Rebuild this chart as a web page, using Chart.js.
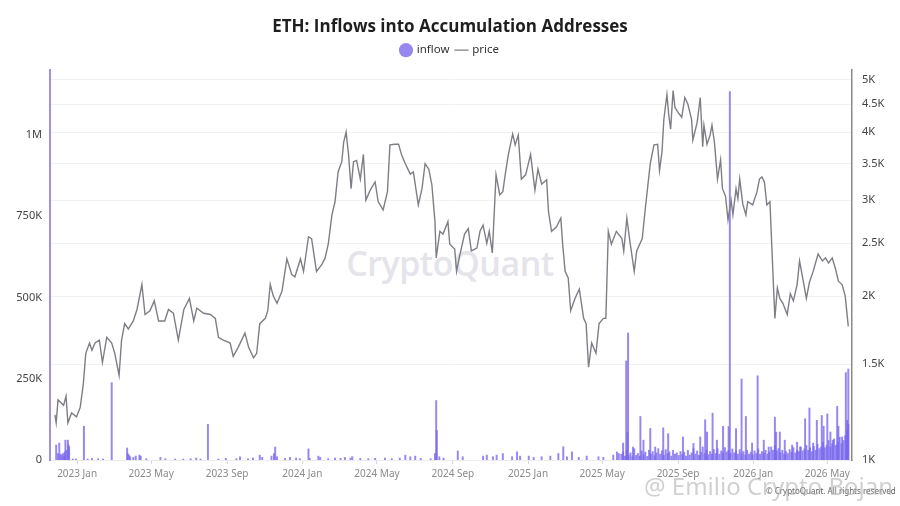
<!DOCTYPE html>
<html><head><meta charset="utf-8">
<script src="https://cdn.jsdelivr.net/npm/chart.js@4.4.1/dist/chart.umd.min.js"></script>
<style>
html,body{margin:0;padding:0;background:#fff;}
#wrap{position:relative;width:900px;height:506px;overflow:hidden;background:#fff;}
#wm{position:absolute;left:0;top:240px;width:900px;text-align:center;font:600 34px 'Open Sans',sans-serif;color:#e4e4ea;z-index:0;letter-spacing:-0.5px;}
#c{position:absolute;left:0;top:0;z-index:1;}
#copy{position:absolute;left:766px;top:485px;font:8px 'Noto Sans',sans-serif;color:#666;z-index:2;white-space:nowrap;}
#handle{position:absolute;left:644px;top:469px;font:24px 'Noto Sans',sans-serif;color:rgba(170,170,170,0.55);z-index:3;white-space:nowrap;}
</style></head>
<body>
<div id="wrap">
<div id="wm">CryptoQuant</div>
<canvas id="c" width="900" height="506"></canvas>
<div id="copy">© CryptoQuant. All rights reserved</div>
<div id="handle">@ Emilio Crypto Bojan</div>
</div>
<script>
// ---- data ----
const chartTitle = 'ETH: Inflows into Accumulation Addresses';
const xTickDates = ['2023-01-01','2023-05-01','2023-09-01','2024-01-01','2024-05-01','2024-09-01','2025-01-01','2025-05-01','2025-09-01','2026-01-01','2026-05-01'];
const leftTicks = [0,250000,500000,750000,1000000];
const rightTicks = [1000,1500,2000,2500,3000,3500,4000,4500,5000];

const priceDates = [
'2022-11-26','2022-11-28','2022-12-01','2022-12-10','2022-12-14','2022-12-17','2022-12-23','2022-12-31',
'2023-01-06','2023-01-11','2023-01-15','2023-01-21','2023-01-25','2023-01-30',
'2023-02-06','2023-02-11','2023-02-18','2023-02-26',
'2023-03-03','2023-03-10','2023-03-14','2023-03-19','2023-03-25',
'2023-04-02','2023-04-08','2023-04-16','2023-04-21','2023-04-29',
'2023-05-06','2023-05-13','2023-05-23','2023-05-29',
'2023-06-06','2023-06-14','2023-06-23',
'2023-07-02','2023-07-09','2023-07-14','2023-07-25',
'2023-08-05','2023-08-13','2023-08-18','2023-08-26',
'2023-09-06','2023-09-11','2023-09-19','2023-09-30',
'2023-10-06','2023-10-14','2023-10-19','2023-10-24',
'2023-11-02','2023-11-06','2023-11-10','2023-11-15','2023-11-21','2023-11-29',
'2023-12-07','2023-12-15','2023-12-20','2023-12-29',
'2024-01-03','2024-01-11','2024-01-16','2024-01-24',
'2024-02-02','2024-02-07','2024-02-12','2024-02-18','2024-02-23','2024-02-28',
'2024-03-05','2024-03-08','2024-03-12','2024-03-16','2024-03-20','2024-03-24','2024-03-29',
'2024-04-04','2024-04-09','2024-04-13','2024-04-20','2024-04-28',
'2024-05-03','2024-05-11','2024-05-18','2024-05-22','2024-05-30',
'2024-06-05','2024-06-10','2024-06-16','2024-06-24','2024-06-29',
'2024-07-07','2024-07-13','2024-07-18','2024-07-24','2024-07-29',
'2024-08-03','2024-08-05','2024-08-11','2024-08-16','2024-08-24','2024-08-27',
'2024-09-04','2024-09-07','2024-09-12','2024-09-20','2024-09-26',
'2024-10-01','2024-10-10','2024-10-15','2024-10-20','2024-10-26','2024-10-30',
'2024-11-04','2024-11-10','2024-11-16','2024-11-21','2024-11-25','2024-11-30',
'2024-12-07','2024-12-11','2024-12-16','2024-12-21','2024-12-28',
'2025-01-05','2025-01-12','2025-01-17','2025-01-23','2025-01-31',
'2025-02-03','2025-02-08','2025-02-16','2025-02-23','2025-02-26',
'2025-03-02','2025-03-07','2025-03-11','2025-03-18','2025-03-25',
'2025-04-01','2025-04-05','2025-04-09','2025-04-14','2025-04-21','2025-04-26',
'2025-05-03','2025-05-07','2025-05-11','2025-05-16','2025-05-24',
'2025-06-02','2025-06-05','2025-06-10','2025-06-15','2025-06-22','2025-06-26',
'2025-07-05','2025-07-10','2025-07-18','2025-07-24','2025-07-30',
'2025-08-02','2025-08-06','2025-08-09','2025-08-14','2025-08-17','2025-08-20','2025-08-24','2025-08-27',
'2025-09-01','2025-09-07','2025-09-12','2025-09-17','2025-09-23','2025-09-25',
'2025-10-02','2025-10-07','2025-10-11','2025-10-13','2025-10-18','2025-10-23','2025-10-26','2025-10-30',
'2025-11-04','2025-11-09','2025-11-12','2025-11-17','2025-11-21','2025-11-26','2025-11-29',
'2025-12-04','2025-12-07','2025-12-10','2025-12-15','2025-12-20','2025-12-23','2025-12-31',
'2026-01-07','2026-01-11','2026-01-15','2026-01-19','2026-01-23','2026-01-28',
'2026-02-01','2026-02-05','2026-02-09','2026-02-13','2026-02-18','2026-02-25',
'2026-03-02','2026-03-07','2026-03-13','2026-03-17','2026-03-23','2026-03-28',
'2026-04-02','2026-04-08','2026-04-16','2026-04-23','2026-04-28',
'2026-05-03','2026-05-09','2026-05-14','2026-05-19','2026-05-25','2026-05-30','2026-06-04'
];
const priceValues = [
1210,1170,1290,1260,1310,1170,1220,1200,
1250,1380,1570,1640,1590,1640,
1660,1510,1680,1640,
1570,1430,1660,1780,1740,
1800,1890,2100,1850,1880,
1960,1800,1800,1890,
1860,1660,1890,
1980,1800,1900,1860,
1850,1820,1680,1660,
1640,1550,1610,1710,
1610,1540,1570,1780,
1820,1880,2100,2000,1940,2040,
2340,2190,2170,2340,
2220,2570,2550,2220,
2290,2350,2490,2820,2980,3380,
3530,3830,4000,3630,3150,3530,3550,
3280,3640,3000,3130,3240,
2980,2880,3110,3790,3800,
3800,3630,3500,3350,3380,
2940,3150,3500,3420,3200,
2740,2350,2630,2600,2740,2490,
2440,2220,2370,2600,2660,
2420,2450,2630,2700,2500,2630,
2400,3340,3070,3110,3350,3640,
3970,3790,3950,3280,3340,
3640,3130,3420,3210,3270,
2860,2630,2680,2780,2490,
2220,2160,1880,1980,2060,
1820,1780,1480,1640,1570,1780,
1820,1820,2630,2490,2630,
2550,2420,2780,2520,2220,2420,
2550,2900,3500,3790,3800,
3400,3680,4220,4690,4300,4050,4770,4440,
4350,4260,4630,4500,4220,3870,
4170,4630,3760,4120,3800,3950,4120,3830,
3280,3560,3150,3050,2760,3000,2820,
3150,3020,3280,2950,2820,2980,2940,
3110,3280,3310,3240,2940,2980,
2320,1820,2070,1980,1940,1850,
2020,1960,2100,2320,2130,1980,
2120,2220,2390,2320,2350,
2300,2350,2250,2130,2100,2000,1760
];

const inflowDates = [
'2022-11-28','2022-12-01','2022-12-03','2022-12-05','2022-12-07','2022-12-09','2022-12-11','2022-12-12','2022-12-13','2022-12-15','2022-12-17','2022-12-18','2022-12-19','2022-12-25','2022-12-30',
'2023-01-12','2023-01-18','2023-01-25','2023-02-04','2023-02-12','2023-02-26',
'2023-03-23','2023-03-24','2023-03-26','2023-03-28','2023-04-02','2023-04-06','2023-04-12','2023-04-14','2023-04-23',
'2023-05-16','2023-05-24','2023-06-09','2023-06-22','2023-07-04','2023-07-13','2023-07-20','2023-08-01','2023-08-18','2023-08-30',
'2023-09-16','2023-09-22','2023-10-05','2023-10-13','2023-10-24','2023-10-28','2023-11-12','2023-11-16','2023-11-18','2023-11-21',
'2023-12-04','2023-12-12','2023-12-22','2023-12-28','2024-01-11','2024-01-13','2024-01-27','2024-01-30',
'2024-02-12','2024-02-23','2024-03-03','2024-03-10','2024-03-19','2024-03-22','2024-04-04','2024-04-17','2024-04-28',
'2024-05-14','2024-05-25','2024-06-07','2024-06-16','2024-06-24','2024-07-02','2024-07-11','2024-07-27',
'2024-08-03','2024-08-05','2024-08-06','2024-08-10','2024-08-17',
'2024-09-09','2024-09-17','2024-10-20','2024-10-26','2024-11-05','2024-11-11','2024-11-21','2024-12-06','2024-12-14','2024-12-19',
'2025-01-02','2025-01-10','2025-01-23','2025-02-06','2025-02-19','2025-02-27','2025-03-05','2025-03-13','2025-03-24','2025-04-06','2025-04-25',
'2025-05-03','2025-05-19','2025-05-25','2025-05-28',
'2025-06-01','2025-06-04','2025-06-07','2025-06-10','2025-06-13','2025-06-16','2025-06-19','2025-06-22','2025-06-25','2025-06-28',
'2025-07-01','2025-07-04','2025-07-07','2025-07-10','2025-07-13','2025-07-16','2025-07-19','2025-07-22','2025-07-25','2025-07-28','2025-07-31',
'2025-08-03','2025-08-06','2025-08-09','2025-08-12','2025-08-15','2025-08-18','2025-08-21','2025-08-24','2025-08-27','2025-08-30',
'2025-09-02','2025-09-05','2025-09-08','2025-09-11','2025-09-14','2025-09-17','2025-09-20','2025-09-23','2025-09-26','2025-09-29',
'2025-10-02','2025-10-05','2025-10-08','2025-10-11','2025-10-14','2025-10-17','2025-10-20','2025-10-23','2025-10-26','2025-10-29',
'2025-11-01','2025-11-04','2025-11-07','2025-11-10','2025-11-13','2025-11-16','2025-11-19','2025-11-22','2025-11-25','2025-11-28',
'2025-12-01','2025-12-04','2025-12-07','2025-12-10','2025-12-13','2025-12-16','2025-12-19','2025-12-22','2025-12-25','2025-12-28','2025-12-31',
'2026-01-03','2026-01-06','2026-01-09','2026-01-12','2026-01-15','2026-01-18','2026-01-21','2026-01-24','2026-01-27','2026-01-30',
'2026-02-02','2026-02-05','2026-02-08','2026-02-11','2026-02-14','2026-02-17','2026-02-20','2026-02-23','2026-02-26',
'2026-03-01','2026-03-04','2026-03-07','2026-03-10','2026-03-13','2026-03-16','2026-03-19','2026-03-22','2026-03-25','2026-03-28','2026-03-31',
'2026-04-03','2026-04-06','2026-04-09','2026-04-12','2026-04-15','2026-04-18','2026-04-21','2026-04-24','2026-04-27','2026-04-30',
'2026-05-03','2026-05-06','2026-05-09','2026-05-12','2026-05-15','2026-05-18','2026-05-21','2026-05-24','2026-05-27','2026-05-30','2026-06-02','2026-06-04',
'2025-06-04','2025-06-09','2025-06-11','2025-06-12','2025-06-20','2025-07-02','2025-07-07','2025-07-18','2025-07-26','2025-08-08','2025-08-16',
'2025-09-09','2025-09-26','2025-10-07','2025-10-15','2025-10-18','2025-10-27','2025-11-03','2025-11-13','2025-11-22','2025-11-24',
'2025-12-04','2025-12-13','2025-12-20','2025-12-30','2026-01-08','2026-01-18','2026-01-26','2026-02-05','2026-02-07','2026-02-13','2026-02-21',
'2026-03-05','2026-03-13','2026-03-18','2026-03-26','2026-04-02','2026-04-08','2026-04-14','2026-04-22','2026-04-25',
'2026-05-01','2026-05-06','2026-05-10','2026-05-17','2026-05-19','2026-05-25','2026-05-31','2026-06-02','2026-06-04'
];
const inflowValues = [
46000,20000,52000,18000,15000,20000,12000,25000,61000,30000,61000,46000,40000,3000,3000,
104000,3000,5000,4000,3000,238000,
37000,20000,15000,10000,8000,12000,15000,12000,4000,
8000,4000,3000,3000,4000,6000,3000,110000,3000,5000,
4000,10000,4000,6000,15000,8000,12000,20000,40000,10000,
5000,8000,6000,4000,34000,5000,12000,8000,
4000,6000,5000,8000,6000,10000,5000,4000,5000,
6000,4000,6000,15000,10000,12000,5000,4000,
20000,183000,91000,10000,6000,
28000,10000,12000,15000,10000,15000,20000,10000,25000,12000,
12000,8000,10000,12000,20000,41000,10000,25000,8000,12000,10000,
8000,15000,25000,20000,
18000,25000,12000,30000,15000,22000,10000,35000,14000,20000,
12000,28000,16000,24000,11000,30000,18000,26000,13000,22000,35000,
18000,28000,15000,32000,20000,25000,12000,30000,18000,22000,
14000,26000,17000,24000,12000,30000,15000,22000,35000,18000,
28000,14000,24000,40000,20000,30000,16000,26000,18000,32000,
20000,35000,18000,28000,22000,38000,25000,30000,20000,34000,
22000,28000,18000,32000,20000,26000,15000,30000,18000,24000,16000,
28000,20000,34000,18000,26000,22000,30000,18000,25000,40000,
30000,45000,28000,35000,22000,30000,18000,26000,20000,
32000,24000,38000,22000,30000,26000,40000,28000,34000,45000,30000,
38000,26000,42000,30000,48000,35000,40000,55000,38000,45000,
60000,40000,50000,65000,45000,55000,70000,50000,60000,75000,90000,110000,
52000,305000,86000,391000,40000,134000,61000,97000,40000,99000,81000,
71000,51000,71000,124000,86000,144000,61000,104000,103000,1134000,
97000,249000,134000,52000,259000,61000,40000,132000,86000,86000,61000,
46000,55000,40000,127000,160000,52000,122000,137000,104000,
142000,86000,61000,165000,104000,71000,269000,122000,280000
];

// ---- helpers ----
const MONTHS = ['Jan','Feb','Mar','Apr','May','Jun','Jul','Aug','Sep','Oct','Nov','Dec'];
const toDay = s => { const p = s.split('-').map(Number); return Date.UTC(p[0], p[1]-1, p[2]) / 86400000; };
const dayLabel = d => { const dt = new Date(d*86400000); return dt.getUTCFullYear() + ' ' + MONTHS[dt.getUTCMonth()]; };
const fmtK = v => v === 0 ? '0' : (v >= 1000000 ? (v/1000000) + 'M' : (v/1000) + 'K');

const inflowData = inflowDates.map((d,i) => ({x: toDay(d), y: inflowValues[i]}));
const priceData = priceDates.map((d,i) => ({x: toDay(d), y: priceValues[i]}));

const FONT = "'Noto Sans', sans-serif";

new Chart(document.getElementById('c'), {
  data: {
    datasets: [
      { type: 'line', label: 'price', data: priceData, yAxisID: 'yR', borderColor: '#7e7e86', backgroundColor: '#7e7e86',
        borderWidth: 1.4, pointRadius: 0, tension: 0, pointStyle: 'line', order: 1 },
      { type: 'bar', label: 'inflow', data: inflowData, yAxisID: 'yL', backgroundColor: 'rgba(120,102,236,0.78)',
        borderWidth: 0, barThickness: 1.3, pointStyle: 'circle', order: 2 }
    ]
  },
  options: {
    responsive: false, animation: false,
    layout: { padding: { left: 0, right: 0, top: 0, bottom: 0 } },
    plugins: {
      title: { display: true, text: chartTitle, color: '#1e1e1e',
        font: { family: "'Open Sans', sans-serif", size: 17, weight: 'bold' }, padding: { top: 17, bottom: 0 } },
      subtitle: { display: true, text: '', weight: 500, font: { size: 1 }, padding: { top: 0, bottom: 3 } },
      legend: { display: true, position: 'top', reverse: true,
        labels: { usePointStyle: true, boxWidth: 10, boxHeight: 10, color: '#333', padding: 7,
          font: { family: FONT, size: 11.5 } } },
      tooltip: { enabled: false }
    },
    scales: {
      x: { type: 'linear', offset: false, min: toDay('2022-11-18'), max: toDay('2026-06-10'),
        afterBuildTicks: s => { s.ticks = xTickDates.map(d => ({ value: toDay(d) })); },
        afterFit: s => { s.height = 46; },
        ticks: { autoSkip: false, maxRotation: 0, color: '#8a8a8a', font: { family: FONT, size: 10 }, padding: 4,
          callback: v => dayLabel(v) },
        grid: { display: true, offset: false, drawOnChartArea: false, drawTicks: true, tickLength: 4, color: '#d8d8d8' },
        border: { display: true, color: '#ececec', width: 1 } },
      yL: { type: 'linear', position: 'left', min: 0, max: 1200000,
        afterBuildTicks: s => { s.ticks = leftTicks.map(v => ({ value: v })); },
        afterFit: s => { s.width = 50; },
        ticks: { color: '#444', font: { family: FONT, size: 11 }, padding: 8, callback: v => fmtK(v) },
        grid: { display: false, drawTicks: false },
        border: { display: true, color: '#9c92ec', width: 2 } },
      yR: { type: 'logarithmic', position: 'right', min: 1000, max: 5200,
        afterBuildTicks: s => { s.ticks = rightTicks.map(v => ({ value: v })); },
        afterFit: s => { s.width = 48; },
        ticks: { color: '#444', font: { family: FONT, size: 11 }, padding: 10, callback: v => fmtK(v) },
        grid: { display: true, drawTicks: false, color: '#f2f2f2', lineWidth: 1 },
        border: { display: true, color: '#8a8a8a', width: 1.5 } }
    }
  }
});
</script>
</body></html>
